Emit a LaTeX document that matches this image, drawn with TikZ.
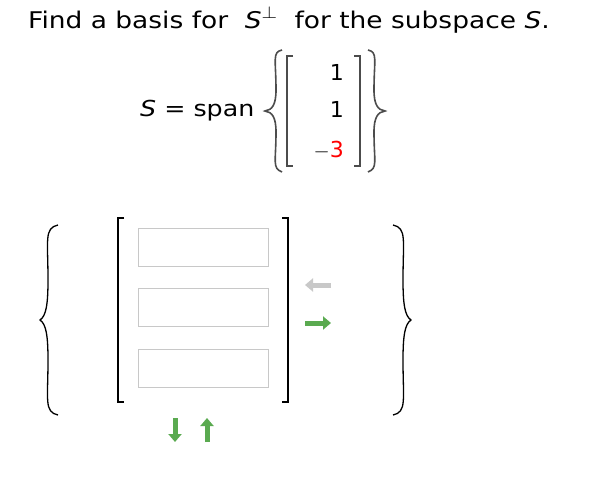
\documentclass[tikz,border=0pt]{standalone}
\usepackage{fontspec}
\setmainfont{DejaVu Sans}
\usetikzlibrary{arrows.meta}
\definecolor{grn}{RGB}{90,170,80}
\definecolor{gry}{RGB}{200,200,200}
\begin{document}
\begin{tikzpicture}[x=1pt,y=-1pt,
  txt/.style={inner sep=0pt,anchor=base west},
  inbox/.style={draw=gry,line width=1.2pt,minimum width=130pt,minimum height=38pt,inner sep=0pt,anchor=north west},
  fat/.style={line width=5pt,-{Triangle[length=8pt,width=13pt]}},
  brk/.style={line width=1.3pt},
  sbrk/.style={line width=1.6pt,draw=black!70},
  num/.style={anchor=base east,font=\fontsize{22}{24}\selectfont,inner sep=0pt}]
\useasboundingbox (0,0) rectangle (602,488);
\node[txt,font=\fontsize{23}{26}\selectfont,xscale=1.15] (title) at (28,28) {Find a basis for \ \textit{S}$^{\perp}$ \ for the subspace \textit{S}.};
\node[txt,font=\fontsize{22}{24}\selectfont,xscale=1.15] (span) at (140,116) {\textit{S} = span};
\node[num] (v1) at (344,80) {1};
\node[num] (v2) at (344,117) {1};
\node[num] (v3) at (344,157) {$-$\textcolor{red}{3}};
% small braces
\draw[sbrk] (282,50) .. controls (272,52) and (276,60) .. (276,90) .. controls (276,105) and (272,110) .. (265,111) .. controls (272,112) and (276,117) .. (276,132) .. controls (276,162) and (272,168) .. (282,172);
\draw[sbrk] (368,50) .. controls (378,52) and (374,60) .. (374,90) .. controls (374,105) and (378,110) .. (385,111) .. controls (378,112) and (374,117) .. (374,132) .. controls (374,162) and (378,168) .. (368,172);
\draw[sbrk] (293,56) -- (287,56) -- (287,166) -- (293,166);
\draw[sbrk] (354,56) -- (360,56) -- (360,166) -- (354,166);
% big braces
\draw[line width=1.3pt] (58,225) .. controls (44,228) and (48,240) .. (48,280) .. controls (48,305) and (46,316) .. (40,320) .. controls (46,324) and (48,335) .. (48,360) .. controls (48,400) and (44,412) .. (58,415);
\draw[line width=1.3pt] (393,225) .. controls (407,228) and (403,240) .. (403,280) .. controls (403,305) and (405,316) .. (411,320) .. controls (405,324) and (403,335) .. (403,360) .. controls (403,400) and (407,412) .. (393,415);
\draw[brk] (124,218) -- (118,218) -- (118,402) -- (124,402);
\draw[brk] (282,218) -- (288,218) -- (288,402) -- (282,402);
\node[inbox] (b1) at (138,228) {};
\node[inbox] (b2) at (138,288) {};
\node[inbox] (b3) at (138,349) {};
% arrows
\coordinate (la1) at (331,285); \coordinate (la2) at (305,285);
\coordinate (ra1) at (305,323); \coordinate (ra2) at (331,323);
\draw[fat,gry] (la1) -- (la2);
\draw[fat,grn] (ra1) -- (ra2);
\coordinate (d1) at (175,418); \coordinate (d2) at (175,442);
\coordinate (u1) at (207,442); \coordinate (u2) at (207,418);
\draw[fat,grn] (d1) -- (d2);
\draw[fat,grn] (u1) -- (u2);
\end{tikzpicture}
\end{document}
